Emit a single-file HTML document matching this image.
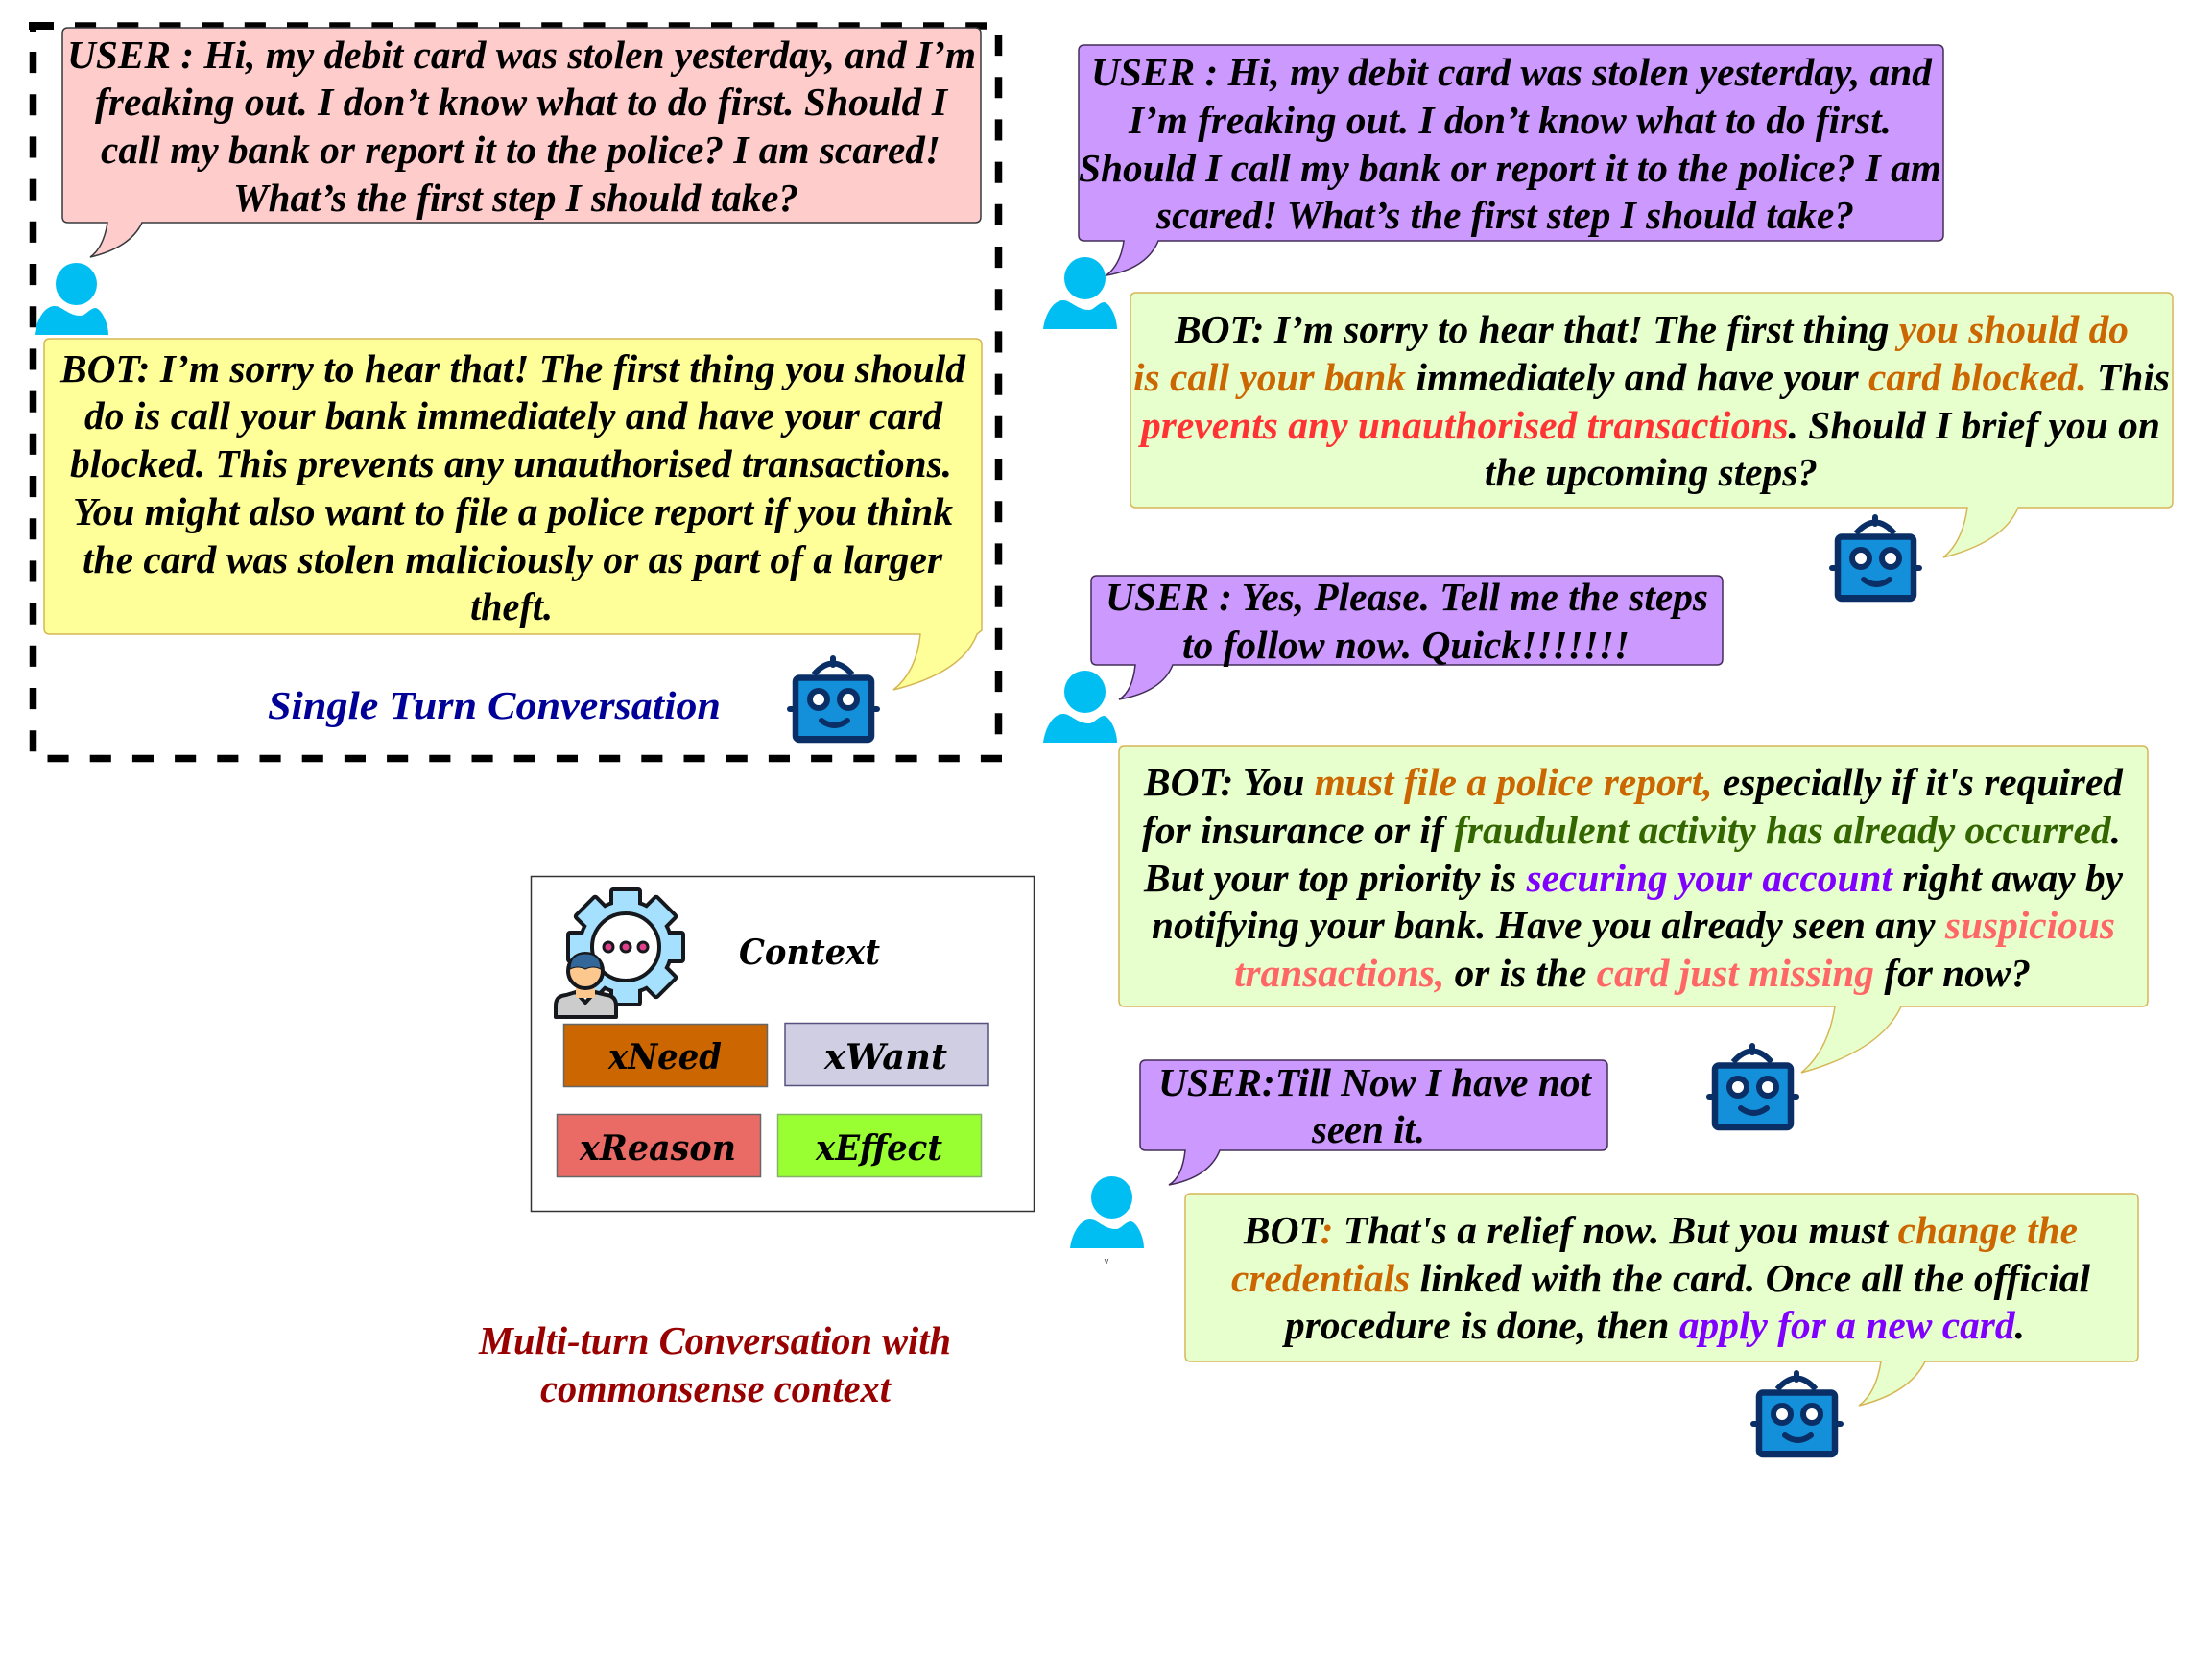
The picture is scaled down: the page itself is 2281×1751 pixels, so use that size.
<!DOCTYPE html>
<html><head><meta charset="utf-8"><title>Conversation diagram</title>
<style>
html,body{margin:0;padding:0;background:#fff;width:2281px;height:1751px;overflow:hidden}
svg{display:block}
.t{font-family:"Liberation Serif",serif;font-weight:bold;font-style:italic;font-size:41px;fill:#000}
.c{font-family:"DejaVu Serif","Liberation Serif",serif;font-weight:bold;font-style:italic;font-size:36px;fill:#000}
.o{fill:#CC6600}.r{fill:#FF3333}.g{fill:#336600}.p{fill:#7F00FF}.s{fill:#FF6666}
</style></head><body>
<svg width="2281" height="1751" viewBox="0 0 2281 1751" xmlns="http://www.w3.org/2000/svg">
<defs>
<g id="person">
<ellipse cx="44.5" cy="22" rx="21.5" ry="22" fill="#00BEF2"/>
<path d="M1,75 C3,60 11,45 22,45 C30,45 36,55 49,55 C54,55 58,48 64,47 C70,47 78,62 78,75 Z" fill="#00BEF2"/>
</g>
<g id="robot">
<path d="M28,20 Q48,-3 68,20" fill="none" stroke="#0A2F66" stroke-width="6"/>
<line x1="48" y1="3" x2="48" y2="10" stroke="#0A2F66" stroke-width="6" stroke-linecap="round"/>
<line x1="3" y1="56" x2="94" y2="56" stroke="#0A2F66" stroke-width="6" stroke-linecap="round"/>
<rect x="9" y="23.5" width="79" height="64.5" rx="4" fill="#1490DA" stroke="#0A2F66" stroke-width="6.5"/>
<rect x="9" y="84" width="79" height="6" fill="#0A2F66"/>
<circle cx="33" cy="46" r="9" fill="#fff" stroke="#0A2F66" stroke-width="6"/>
<circle cx="64" cy="46" r="9" fill="#fff" stroke="#0A2F66" stroke-width="6"/>
<path d="M36,68 Q49.5,78 63,68" fill="none" stroke="#0A2F66" stroke-width="6" stroke-linecap="round"/>
</g>
</defs>

<!-- Single turn dashed frame -->
<g fill="none" stroke="#000" stroke-width="7.5">
<path d="M78,27 H1028" stroke-dasharray="22.1 22.1"/>
<path d="M1040.5,36 V767" stroke-dasharray="22.1 22.1"/>
<path d="M1044,790.5 H49" stroke-dasharray="22.1 22.1"/>
<path d="M34.5,54 V784" stroke-dasharray="22.1 22.1"/>
</g>
<path d="M30,23 H56 V31 H38 V33 H31 V31 H30 Z" fill="#000"/>

<path d="M71,29 H1016 Q1022,29 1022,35 V226 Q1022,232 1016,232 H148 Q136,258 94,268 Q108,258 112,232 H71 Q65,232 65,226 V35 Q65,29 71,29 Z" fill="#FFCCCC" stroke="#36393D" stroke-width="1.5"/>
<text class="t" x="70" y="71" textLength="947" lengthAdjust="spacingAndGlyphs">USER : Hi, my debit card was stolen yesterday, and I’m</text>
<text class="t" x="99" y="120" textLength="888" lengthAdjust="spacingAndGlyphs">freaking out. I don’t know what to do first. Should I</text>
<text class="t" x="105" y="170" textLength="875" lengthAdjust="spacingAndGlyphs">call my bank or report it to the police? I am scared!</text>
<text class="t" x="243" y="220" textLength="589" lengthAdjust="spacingAndGlyphs">What’s the first step I should take?</text>
<use href="#person" x="35" y="274"/>

<path d="M52,353 H1016 Q1023,353 1023,359 V657 L1018,661 Q1003,701 931,719 Q955,700 959,661 H52 Q46,661 46,655 V359 Q46,353 52,353 Z" fill="#FFFF99" stroke="#D6B656" stroke-width="1.5"/>
<text class="t" x="63" y="398" textLength="943" lengthAdjust="spacingAndGlyphs">BOT: I’m sorry to hear that! The first thing you should</text>
<text class="t" x="88" y="447" textLength="894" lengthAdjust="spacingAndGlyphs">do is call your bank immediately and have your card</text>
<text class="t" x="73" y="497" textLength="919" lengthAdjust="spacingAndGlyphs">blocked. This prevents any unauthorised transactions.</text>
<text class="t" x="76" y="547" textLength="917" lengthAdjust="spacingAndGlyphs">You might also want to file a police report if you think</text>
<text class="t" x="86" y="597" textLength="896" lengthAdjust="spacingAndGlyphs">the card was stolen maliciously or as part of a larger</text>
<text class="t" x="490" y="646" textLength="86" lengthAdjust="spacingAndGlyphs">theft.</text>
<text class="t" x="279" y="749" textLength="472" lengthAdjust="spacingAndGlyphs" style="fill:#000099">Single Turn Conversation</text>
<use href="#robot" x="820" y="683"/>

<!-- Turn 1 -->
<path d="M1130,47 H2019 Q2025,47 2025,53 V245 Q2025,251 2019,251 H1207 Q1195,280 1153,287 Q1168,275 1171,251 H1130 Q1124,251 1124,245 V53 Q1124,47 1130,47 Z" fill="#CC99FF" stroke="#432D57" stroke-width="1.5"/>
<text class="t" x="1137" y="89" textLength="876" lengthAdjust="spacingAndGlyphs">USER : Hi, my debit card was stolen yesterday, and</text>
<text class="t" x="1176" y="139" textLength="795" lengthAdjust="spacingAndGlyphs">I’m freaking out. I don’t know what to do first.</text>
<text class="t" x="1124" y="189" textLength="899" lengthAdjust="spacingAndGlyphs">Should I call my bank or report it to the police? I am</text>
<text class="t" x="1205" y="238" textLength="727" lengthAdjust="spacingAndGlyphs">scared! What’s the first step I should take?</text>
<use href="#person" x="1086" y="268"/>

<path d="M1184,305 H2258 Q2264,305 2264,311 V523 Q2264,529 2258,529 H2103 Q2088,565 2025,581 Q2045,565 2050,529 H1184 Q1178,529 1178,523 V311 Q1178,305 1184,305 Z" fill="#E6FFCC" stroke="#D6B656" stroke-width="1.5"/>
<text class="t" x="1224" y="357" textLength="994" lengthAdjust="spacingAndGlyphs">BOT: I’m sorry to hear that! The first thing <tspan class="o">you should do</tspan></text>
<text class="t" x="1181" y="407" textLength="1080" lengthAdjust="spacingAndGlyphs"><tspan class="o">is call your bank</tspan> immediately and have your <tspan class="o">card blocked.</tspan> This</text>
<text class="t" x="1189" y="457" textLength="1062" lengthAdjust="spacingAndGlyphs"><tspan class="r">prevents any unauthorised transactions</tspan>. Should I brief you on</text>
<text class="t" x="1547" y="506" textLength="347" lengthAdjust="spacingAndGlyphs">the upcoming steps?</text>
<use href="#robot" x="1906" y="536"/>

<!-- Turn 2 -->
<path d="M1143,600 H1789 Q1795,600 1795,606 V687 Q1795,693 1789,693 H1222 Q1211,721 1166,729 Q1180,721 1183,693 H1143 Q1137,693 1137,687 V606 Q1137,600 1143,600 Z" fill="#CC99FF" stroke="#432D57" stroke-width="1.5"/>
<text class="t" x="1152" y="636" textLength="628" lengthAdjust="spacingAndGlyphs">USER : Yes, Please. Tell me the steps</text>
<text class="t" x="1232" y="686" textLength="466" lengthAdjust="spacingAndGlyphs">to follow now. Quick!!!!!!!</text>
<use href="#person" x="1086" y="699"/>

<path d="M1172,778 H2232 Q2238,778 2238,784 V1043 Q2238,1049 2232,1049 H1981 Q1960,1095 1877,1118 Q1905,1095 1912,1049 H1172 Q1166,1049 1166,1043 V784 Q1166,778 1172,778 Z" fill="#E6FFCC" stroke="#D6B656" stroke-width="1.5"/>
<text class="t" x="1192" y="829" textLength="1020" lengthAdjust="spacingAndGlyphs">BOT: You <tspan class="o">must file a police report,</tspan> especially if it's required</text>
<text class="t" x="1190" y="879" textLength="1020" lengthAdjust="spacingAndGlyphs">for insurance or if <tspan class="g">fraudulent activity has already occurred</tspan>.</text>
<text class="t" x="1192" y="929" textLength="1020" lengthAdjust="spacingAndGlyphs">But your top priority is <tspan class="p">securing your account</tspan> right away by</text>
<text class="t" x="1200" y="978" textLength="1004" lengthAdjust="spacingAndGlyphs">notifying your bank. Have you already seen any <tspan class="s">suspicious</tspan></text>
<text class="t" x="1286" y="1028" textLength="830" lengthAdjust="spacingAndGlyphs"><tspan class="s">transactions,</tspan> or is the <tspan class="s">card just missing</tspan> for now?</text>
<use href="#robot" x="1778" y="1087"/>

<!-- Turn 3 -->
<path d="M1194,1105 H1669 Q1675,1105 1675,1111 V1193 Q1675,1199 1669,1199 H1271 Q1260,1227 1218,1235 Q1232,1227 1235,1199 H1194 Q1188,1199 1188,1193 V1111 Q1188,1105 1194,1105 Z" fill="#CC99FF" stroke="#432D57" stroke-width="1.5"/>
<text class="t" x="1207" y="1142" textLength="451" lengthAdjust="spacingAndGlyphs">USER:Till Now I have not</text>
<text class="t" x="1367" y="1191" textLength="118" lengthAdjust="spacingAndGlyphs">seen it.</text>
<use href="#person" x="1114" y="1226"/>
<text x="1153" y="1317" text-anchor="middle" style="font-family:'Liberation Sans',sans-serif;font-size:9px;fill:#444">v</text>

<path d="M1241,1244 H2222 Q2228,1244 2228,1250 V1413 Q2228,1419 2222,1419 H2006 Q1990,1452 1937,1465 Q1955,1452 1960,1419 H1241 Q1235,1419 1235,1413 V1250 Q1235,1244 1241,1244 Z" fill="#E6FFCC" stroke="#D6B656" stroke-width="1.5"/>
<text class="t" x="1296" y="1296" textLength="869" lengthAdjust="spacingAndGlyphs">BOT<tspan class="o">:</tspan> That's a relief now. But you must <tspan class="o">change the</tspan></text>
<text class="t" x="1283" y="1346" textLength="895" lengthAdjust="spacingAndGlyphs"><tspan class="o">credentials</tspan> linked with the card. Once all the official</text>
<text class="t" x="1339" y="1395" textLength="771" lengthAdjust="spacingAndGlyphs">procedure is done, then <tspan class="p">apply for a new card</tspan>.</text>
<use href="#robot" x="1824" y="1428"/>

<!-- Context box -->
<rect x="553.5" y="913.5" width="524" height="349" fill="#fff" stroke="#333" stroke-width="1.5"/>
<g transform="translate(652 987)">
<circle r="48" fill="#A6E0FF" stroke="#15181C" stroke-width="4"/>
<g fill="#A6E0FF" stroke="#15181C" stroke-width="4" stroke-linejoin="round">
<rect x="-15" y="-60" width="30" height="60" rx="2"/>
<rect x="-15" y="-60" width="30" height="60" rx="2" transform="rotate(45)"/>
<rect x="-15" y="-60" width="30" height="60" rx="2" transform="rotate(90)"/>
<rect x="-15" y="-60" width="30" height="60" rx="2" transform="rotate(135)"/>
<rect x="-15" y="-60" width="30" height="60" rx="2" transform="rotate(180)"/>
<rect x="-15" y="-60" width="30" height="60" rx="2" transform="rotate(225)"/>
<rect x="-15" y="-60" width="30" height="60" rx="2" transform="rotate(270)"/>
<rect x="-15" y="-60" width="30" height="60" rx="2" transform="rotate(315)"/>
</g>
<circle r="46" fill="#A6E0FF"/>
<circle r="35" fill="#fff" stroke="#15181C" stroke-width="4"/>
<g fill="#E0408A" stroke="#15181C" stroke-width="3">
<circle cx="-18" r="5"/><circle r="5"/><circle cx="18" r="5"/>
</g>
</g>
<path d="M579,1060 V1048 Q579,1038 590,1037 L600,1034 L610,1045 L620,1034 L632,1037 Q642,1038 642,1048 V1060 Z" fill="#CCCCCC" stroke="#15181C" stroke-width="4" stroke-linejoin="round"/>
<rect x="600" y="1026" width="20" height="14" fill="#FCC88E"/>
<circle cx="610" cy="1012" r="18" fill="#FCC88E" stroke="#15181C" stroke-width="4"/>
<path d="M594,1010 Q594,994 610,994 Q626,994 626,1010 Q618,1006 610,1010 Q602,1006 594,1010 Z" fill="#336699" stroke="#15181C" stroke-width="1"/>

<text class="c" x="770" y="1005" textLength="147" lengthAdjust="spacingAndGlyphs">Context</text>
<rect x="587.5" y="1067.5" width="212" height="65" fill="#CC6600" stroke="#666" stroke-width="1.5"/>
<text class="c" x="634" y="1114" textLength="118" lengthAdjust="spacingAndGlyphs">xNeed</text>
<rect x="818" y="1066.5" width="212" height="65" fill="#D0CEE2" stroke="#56517E" stroke-width="1.5"/>
<text class="c" x="859" y="1114" textLength="128" lengthAdjust="spacingAndGlyphs">xWant</text>
<rect x="580.5" y="1161.5" width="212" height="65" fill="#EA6B66" stroke="#666" stroke-width="1.5"/>
<text class="c" x="604" y="1209" textLength="163" lengthAdjust="spacingAndGlyphs">xReason</text>
<rect x="810.5" y="1161.5" width="212" height="65" fill="#99FF33" stroke="#82B366" stroke-width="1.5"/>
<text class="c" x="850" y="1209" textLength="132" lengthAdjust="spacingAndGlyphs">xEffect</text>

<text class="t" x="499" y="1411" textLength="492" lengthAdjust="spacingAndGlyphs" style="fill:#990000">Multi-turn Conversation with</text>
<text class="t" x="563" y="1461" textLength="365" lengthAdjust="spacingAndGlyphs" style="fill:#990000">commonsense context</text>
</svg>
</body></html>
